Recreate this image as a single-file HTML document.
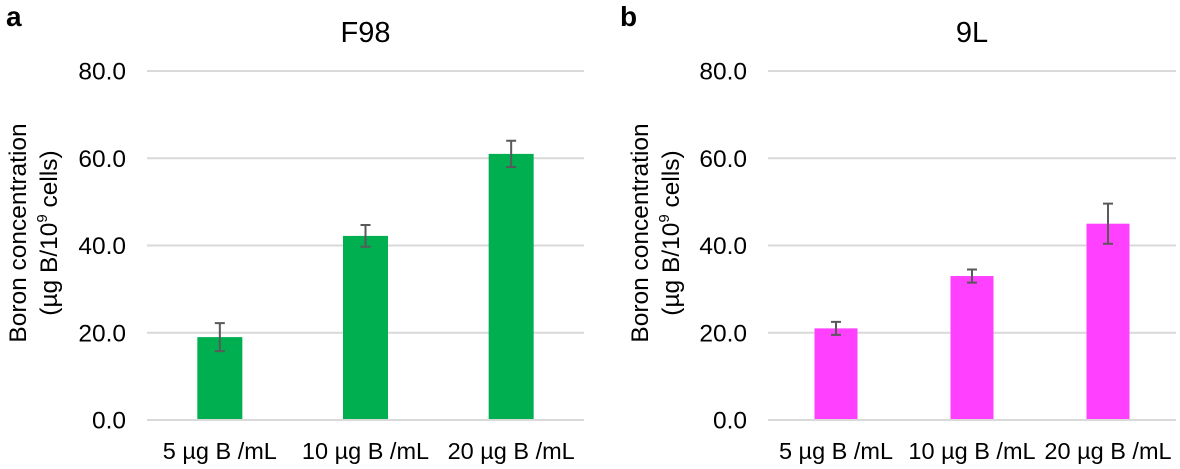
<!DOCTYPE html>
<html><head><meta charset="utf-8"><style>
body{margin:0;background:#fff;}
svg{display:block;font-family:"Liberation Sans",Arial,sans-serif;}
</style></head><body>
<svg id="fig" width="1180" height="469"></svg>
<script>
const categories=["5 µg B /mL","10 µg B /mL","20 µg B /mL"];
const f98Values=[19.0,42.2,61.0];
const f98Errors=[3.2,2.5,3.0];
const l9Values=[21.0,33.0,45.0];
const l9Errors=[1.5,1.5,4.6];
const yTicks=[0,20,40,60,80];
const yTickLabels=["0.0","20.0","40.0","60.0","80.0"];
const NS="http://www.w3.org/2000/svg";
const svg=document.getElementById('fig');
function mk(tag,attrs,parent){const e=document.createElementNS(NS,tag);for(const k in attrs)e.setAttribute(k,attrs[k]);(parent||svg).appendChild(e);return e;}
function panel(o){
  const g=mk('g',{});
  
  
  const y=v=>o.y0-(v/80)*(o.y0-o.y80);
  const band=(o.x1-o.x0)/categories.length;
  const xc=i=>o.x0+band*(i+0.5);
  yTicks.forEach((t,i)=>{
    const l=mk('line',{x1:o.x0,x2:o.x1,y1:y(t),y2:y(t),stroke:'#d9d9d9','stroke-width':2},g);
    
    
    const tx=mk('text',{x:o.x0-21,y:y(t)+8.5,'text-anchor':'end','font-size':24.5,fill:'#000'},g);
    tx.textContent=yTickLabels[i];
    
    
  });
  o.values.forEach((v,i)=>{
    const r=mk('rect',{x:xc(i)-o.bw/2,y:y(v),width:o.bw,height:y(0)-y(v)-1,fill:o.color},g);
    
    
    const e=o.errors[i],cx=xc(i);
    const p=mk('path',{d:`M${cx},${y(v+e)}V${y(v-e)}M${cx-5},${y(v+e)}H${cx+5}M${cx-5},${y(v-e)}H${cx+5}`,stroke:'#595959','stroke-width':2,fill:'none'},g);
    
    
    const t=mk('text',{x:cx,y:y(0)+39,'text-anchor':'middle','font-size':o.xfs,fill:'#000'},g);
    t.textContent=categories[i];
    
    
  });
  const ti=mk('text',{x:(o.x0+o.x1)/2,y:42,'text-anchor':'middle','font-size':29,fill:'#000'},g);
  ti.textContent=o.title;
  
  
  const lt=mk('text',{x:o.lx,y:26,'font-size':28,'font-weight':'bold',fill:'#000'},g);
  lt.textContent=o.letter;
  
  
  const yt=mk('text',{transform:`translate(${o.ax},233) rotate(-90)`,'text-anchor':'middle','font-size':24.5,fill:'#000'},g);
  
  
  const t1=mk('tspan',{x:0,y:0},yt);t1.textContent='Boron concentration';
  const t2=mk('tspan',{x:0,y:31},yt);t2.textContent='(µg B/10';
  const t3=mk('tspan',{'font-size':15,dy:-10},yt);t3.textContent='9';
  const t4=mk('tspan',{dy:10},yt);t4.textContent=' cells)';
}
panel({name:'chart-f98',x0:147,x1:584,y0:420,y80:71,bw:45,color:'#00b050',values:f98Values,errors:f98Errors,title:'F98',letter:'a',lx:6,ax:26,xfs:23.5});
panel({name:'chart-9l',x0:768,x1:1176,y0:420,y80:71,bw:43,color:'#ff40ff',values:l9Values,errors:l9Errors,title:'9L',letter:'b',lx:620,ax:648,xfs:23.5});
</script>
</body></html>
